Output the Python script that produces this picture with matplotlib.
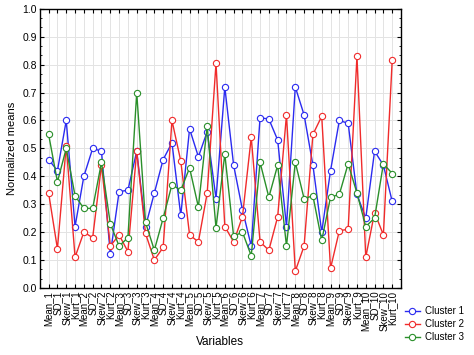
import numpy as np
import matplotlib.pyplot as plt
from matplotlib.ticker import MultipleLocator

plt.rcParams['font.family'] = ['Liberation Sans', 'DejaVu Sans']

# variable names: Mean/SD/Skew/Kurt for 10 groups
variables = []
for g in range(1, 11):
    for s in ['Mean', 'SD', 'Skew', 'Kurt']:
        variables.append('%s_%d' % (s, g))

cluster1 = [0.46, 0.42, 0.60, 0.22, 0.40, 0.50, 0.49, 0.12, 0.345, 0.35,
            0.49, 0.22, 0.34, 0.46, 0.52, 0.26, 0.57, 0.47, 0.56, 0.32,
            0.72, 0.44, 0.28, 0.15, 0.61, 0.605, 0.53, 0.22, 0.72, 0.62,
            0.44, 0.20, 0.42, 0.60, 0.59, 0.335, 0.25, 0.49, 0.44, 0.31]
cluster2 = [0.34, 0.14, 0.51, 0.11, 0.20, 0.18, 0.44, 0.15, 0.19, 0.13,
            0.49, 0.195, 0.10, 0.145, 0.60, 0.455, 0.19, 0.165, 0.34, 0.805,
            0.22, 0.165, 0.255, 0.54, 0.165, 0.135, 0.255, 0.62, 0.06, 0.15,
            0.55, 0.615, 0.07, 0.205, 0.21, 0.83, 0.11, 0.27, 0.19, 0.815]
cluster3 = [0.55, 0.38, 0.50, 0.33, 0.285, 0.285, 0.45, 0.23, 0.15, 0.18,
            0.70, 0.235, 0.135, 0.25, 0.37, 0.35, 0.43, 0.29, 0.58, 0.215,
            0.48, 0.185, 0.20, 0.115, 0.45, 0.325, 0.44, 0.15, 0.45, 0.32,
            0.33, 0.17, 0.325, 0.335, 0.445, 0.34, 0.22, 0.25, 0.445, 0.41]

series = [('Cluster 1', cluster1, '#2b2bf0'),
          ('Cluster 2', cluster2, '#f02b2b'),
          ('Cluster 3', cluster3, '#2a8f2a')]

fig = plt.figure(figsize=(4.74, 3.55), dpi=100)
ax = fig.add_axes([0.084, 0.189, 0.762, 0.786])

x = np.arange(1, len(variables) + 1)
for name, vals, col in series:
    ax.plot(x, vals, '-o', color=col, lw=1.0, ms=4.5,
            mfc='white', mec=col, mew=0.8, label=name)

ax.set_xlim(0, len(variables) + 1)
ax.set_ylim(0, 1.0)
ax.set_xticks(x)
ax.set_xticklabels(variables, rotation=90, fontsize=7)
ax.yaxis.set_major_locator(MultipleLocator(0.1))
ax.yaxis.set_minor_locator(MultipleLocator(0.1 / 3))
ax.set_yticklabels(['%.1f' % v for v in ax.get_yticks()], fontsize=7.5)
ax.tick_params(direction='in', top=True, right=True, length=3, width=0.8, pad=2)
ax.tick_params(which='minor', direction='in', right=True, left=True, length=1.5)
ax.grid(True, color='#e3e3e3', lw=0.7)
ax.set_axisbelow(True)
for sp in ax.spines.values():
    sp.set_linewidth(1.0)

ax.set_ylabel('Normalized means', fontsize=8, labelpad=4)
ax.set_xlabel('Variables', fontsize=8.5, labelpad=4)

ax.legend(loc='center left', bbox_to_anchor=(1.01, -0.13), frameon=False,
          fontsize=7, handlelength=1.6, handletextpad=0.5,
          labelspacing=0.3, borderaxespad=0, borderpad=0)

fig.savefig('out.png', dpi=100)
